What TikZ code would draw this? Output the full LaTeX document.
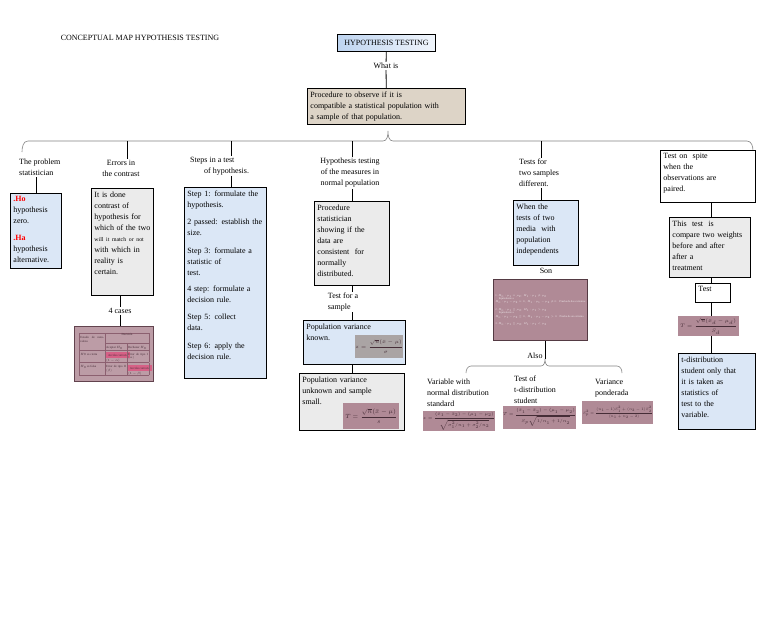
\documentclass[tikz,border=0pt]{standalone}
\usepackage{fontspec}
\setmainfont{Liberation Serif}
\usepackage{array}
\usepackage{graphicx}

\definecolor{headblue}{RGB}{190,212,240}
\definecolor{boxblue}{RGB}{219,231,246}
\definecolor{boxgrey}{RGB}{235,235,235}
\definecolor{boxtan}{RGB}{221,212,199}
\definecolor{mauve}{RGB}{176,138,150}
\definecolor{darkmauve}{RGB}{140,96,112}
\definecolor{hotpink}{RGB}{214,96,134}
\definecolor{photogrey}{RGB}{170,164,164}
\definecolor{inkmauve}{RGB}{70,45,55}
\definecolor{bracegrey}{RGB}{130,130,130}

\tikzset{
  txt/.style={font=\fontsize{8}{11}\selectfont},
  lab/.style={txt, align=left, inner sep=1pt},
  box/.style={txt, draw, line width=0.9pt, anchor=north west, align=left, inner sep=3pt},
  bluebox/.style={box, fill=boxblue},
  greybox/.style={box, fill=boxgrey},
  photo/.style={anchor=north west, fill=mauve, text=inkmauve, inner sep=0pt, font=\fontsize{5}{6}\selectfont},
  link/.style={line width=0.8pt},
  bracket/.style={draw=bracegrey, line width=0.6pt},
}

\begin{document}
\begin{tikzpicture}[x=1pt, y=-1pt]
\useasboundingbox (0,0) rectangle (768,637);

% Top
\node[txt] (title) at (140,38) {CONCEPTUAL MAP HYPOTHESIS TESTING};
\node[txt, draw, line width=0.9pt, left color=headblue, right color=boxblue!40, minimum width=98pt, minimum height=17pt, inner sep=0pt, anchor=north west] (head) at (337,34) {HYPOTHESIS TESTING};
\node[lab] (whatis) at (386,66) {What is};
\node[box, fill=boxtan, text width=152pt, text depth=24pt] (proc) at (307,88) {Procedure to observe if it is\\compatible a statistical population with\\a sample of that population.};
\draw[link] (head) -- (whatis);
\draw[link] (whatis) -- (proc);

\draw[bracket] (22,152) to[out=90,in=180] (28,141) -- (383,141) to[out=0,in=-90] (388,131)
  to[out=-90,in=180] (393,141) -- (747,141) to[out=0,in=90] (753,151);
\coordinate (t2) at (127,141);
\coordinate (t3) at (231,141);
\coordinate (t4) at (352,141);
\coordinate (t5) at (541,141);
\coordinate (t6) at (711,0);

% The problem statistician
\node[lab, anchor=north west] (problab) at (18,158) {The problem\\statistician};
\node[bluebox, text width=45pt, text depth=64pt] (hbox) at (10,193) {{\color{red}\bfseries .Ho}\\hypothesis\\zero.\\[6pt]{\color{red}\bfseries .Ha}\\hypothesis\\alternative.};
\draw[link] (hbox.north) -- (hbox.north |- problab.south);

% Errors in the contrast
\node[lab, align=center] (errlab) at (121,168) {Errors in\\the contrast};
\node[greybox, text width=56pt, text depth=95pt] (errbox) at (91,188) {It is done\\contrast of\\hypothesis for\\which of the two\\{\fontsize{5.8}{11}\selectfont will it match or not}\\with which in\\reality is\\certain.};
\node[lab] (cases) at (120,311) {4 cases};
\node[photo, fill=mauve!85!white, draw=darkmauve!70!black, line width=1.4pt, text=darkmauve, minimum width=79pt, minimum height=55pt] (table) at (74,326) {\scalebox{0.62}{%
\setlength\tabcolsep{1.5pt}%
\begin{tabular}{|>{\color{inkmauve}}p{38pt}|>{\color{inkmauve}}p{32pt}|>{\color{inkmauve}}p{32pt}|}\hline
Estado de naturaleza & \multicolumn{2}{c|}{\color{inkmauve}Decisión}\\\cline{2-3}
 & Aceptar $H_0$ & Rechazar $H_0$\\[3pt]\hline
$H_0$ es cierta & \colorbox{hotpink}{Acción correcta} $(1-\alpha)$ & Error de tipo I $(\alpha)$\\[8pt]\hline
$H_0$ es falsa & Error de tipo II $(\beta)$ & \colorbox{hotpink}{Acción correcta} $(1-\beta)$\\[8pt]\hline
\end{tabular}}};
\draw[link] (t2) -- (t2 |- errlab.north);
\draw[link] (errbox.south -| cases) -- (cases);
\draw[link] (cases) -- (cases |- table.north);

% Steps in a test of hypothesis
\node[lab, anchor=north west] (steplab) at (189,156) {Steps in a test\\\hspace*{14pt}of hypothesis.};
\node[bluebox, text width=76pt, text depth=179pt] (stepbox) at (184,187) {Step 1: formulate the\\hypothesis.\\[6.5pt]2 passed: establish the\\size.\\[6.5pt]Step 3: formulate a\\statistic of\\test.\\[5pt]4 step: formulate a\\decision rule.\\[6.5pt]Step 5: collect\\data.\\[7pt]Step 6: apply the\\decision rule.};
\draw[link] (t3) -- (t3 |- steplab.north);
\draw[link] (t3 |- steplab.south) -- (t3 |- stepbox.north);

% Measures in normal population
\node[lab, align=center] (normlab) at (350,173) {Hypothesis testing\\of the measures in\\normal population};
\node[greybox, text width=69pt, text depth=72pt] (normbox) at (314,201) {Procedure\\statistician\\showing if the\\data are\\consistent~ for\\normally\\distributed.};
\node[lab] (samplab) at (343,302) {Test for a\\sample};
\node[bluebox, text width=96pt, text depth=32pt] (knownbox) at (303,320) {Population variance\\known.};
\node[photo, fill=photogrey, minimum width=48pt, minimum height=23pt] (zphoto) at (355,335) {$\displaystyle z=\frac{\sqrt{n}(\bar{x}-\mu)}{\sigma}$};
\node[greybox, text width=99pt, text depth=45pt] (unknbox) at (299,373) {Population variance\\unknown and sample\\small.};
\node[photo, minimum width=56pt, minimum height=26pt, font=\fontsize{6}{7}\selectfont] (tphoto) at (343,403) {$\displaystyle T=\frac{\sqrt{n}(\bar{x}-\mu)}{s}$};
\draw[link] (t4) -- (t4 |- normlab.north);
\draw[link] (t4 |- normlab.south) -- (t4 |- normbox.north);
\draw[link] (t4 |- normbox.south) -- (t4 |- samplab.north);
\draw[link] (t4 |- samplab.south) -- (t4 |- knownbox.north);
\draw[link] (t4 |- knownbox.south) -- (t4 |- unknbox.north);

% Two samples
\node[lab, anchor=north west] (twolab) at (518,158) {Tests for\\two samples\\different.};
\node[bluebox, text width=59pt, text depth=53pt] (indbox) at (513,200) {When the\\tests of two\\media~ with\\population\\independents};
\node[lab] (son) at (546,271) {Son};
\node[photo, draw=darkmauve!60!black, line width=1pt, text=white!80!mauve, minimum width=94pt, minimum height=61pt] (hypphoto) at (493,279) {\scalebox{0.55}{\begin{tabular}{@{}l@{}}
1. $H_0:\mu_1=\mu_2,\ H_1:\mu_1\neq\mu_2$\\\hspace*{6pt}Equivalente a\\$H_0:\mu_1-\mu_2=0,\ H_1:\mu_1-\mu_2\neq0$\quad Prueba de dos extremos\\[8pt]
2. $H_0:\mu_1\leq\mu_2,\ H_1:\mu_1>\mu_2$\\\hspace*{6pt}Equivalente a\\$H_0:\mu_1-\mu_2\leq0,\ H_1:\mu_1-\mu_2>0$\quad Prueba de un extremo\\[8pt]
3. $H_0:\mu_1\geq\mu_2,\ H_1:\mu_1<\mu_2$
\end{tabular}}};
\coordinate (alsotip) at (545,359);
\node[lab] (also) at (535,356) {Also};
\draw[link] (t5) -- (t5 |- twolab.north);
\draw[link] (t5 |- twolab.south) -- (t5 |- indbox.north);
\draw[link] (hypphoto.south -| alsotip) -- (alsotip);
\draw[bracket] (466,373) to[out=90,in=180] (471,366) -- (541,366) to[out=0,in=-90] (alsotip)
  to[out=-90,in=180] (549,366) -- (617,366) to[out=0,in=90] (622,373);

\node[lab, anchor=north west] (stdlab) at (426,378) {Variable with\\normal distribution\\standard};
\node[photo, minimum width=70pt, minimum height=20pt] (zphoto2) at (423,411) {\scalebox{0.85}{$\displaystyle z=\frac{(\bar{x}_1-\bar{x}_2)-(\mu_1-\mu_2)}{\sqrt{\sigma_1^2/n_1+\sigma_2^2/n_2}}$}};
\node[lab, anchor=north west] (tstlab) at (513,375) {Test of\\t-distribution\\student};
\node[photo, minimum width=71pt, minimum height=23pt] (tphoto2) at (503,406) {\scalebox{0.85}{$\displaystyle T=\frac{(\bar{x}_1-\bar{x}_2)-(\mu_1-\mu_2)}{S_p\sqrt{1/n_1+1/n_2}}$}};
\node[lab, anchor=north west] (pondlab) at (594,378) {Variance\\ponderada};
\node[photo, minimum width=71pt, minimum height=23pt] (spphoto) at (582,401) {\scalebox{0.72}{$\displaystyle S_p^2=\frac{(n_1-1)S_1^2+(n_2-1)S_2^2}{(n_1+n_2-2)}$}};

% Paired observations
\node[box, fill=white, text width=89pt, text depth=41pt] (pairbox) at (660,150) {Test on~ spite\\when the\\observations are\\paired.};
\node[greybox, text width=75pt, text depth=48pt] (weightbox) at (669,217) {This~ test~ is\\compare two weights\\before and after\\after a\\treatment};
\node[box, fill=white, text width=29pt, text depth=8pt] (testbox) at (695,283) {Test};
\node[photo, minimum width=61pt, minimum height=20pt] (tdphoto) at (678,316) {$\displaystyle T=\frac{\sqrt{n}(\bar{x}_d-\mu_d)}{S_d}$};
\node[bluebox, text width=71pt, text depth=64pt] (studbox) at (678,353) {t-distribution\\student only that\\it is taken as\\statistics of\\test to the\\variable.};
\draw[link] (pairbox.south -| t6) -- (weightbox.north -| t6);
\draw[link] (weightbox.south -| t6) -- (testbox.north -| t6);
\draw[link] (testbox.south -| t6) -- (tdphoto.north -| t6);
\draw[link] (tdphoto.south -| t6) -- (studbox.north -| t6);

\end{tikzpicture}
\end{document}
